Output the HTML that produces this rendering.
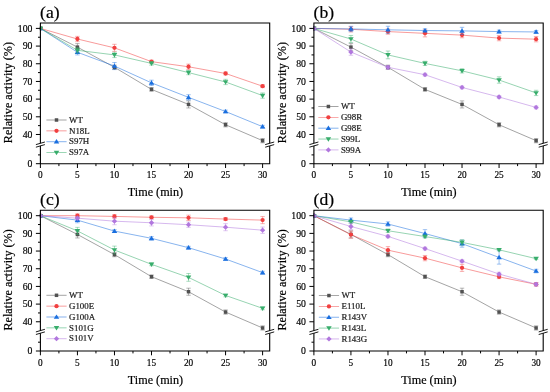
<!DOCTYPE html>
<html><head><meta charset="utf-8"><title>Relative activity</title>
<style>
html,body{margin:0;padding:0;background:#fff;}
svg{display:block;font-family:"Liberation Serif",serif;}
</style></head><body>
<svg width="550" height="392" viewBox="0 0 550 392">
<rect width="550" height="392" fill="#fff"/>
<defs><clipPath id="c0"><rect x="39.90" y="22.50" width="230.30" height="141.70"/></clipPath><clipPath id="c1"><rect x="313.40" y="22.50" width="230.30" height="141.70"/></clipPath><clipPath id="c2"><rect x="39.90" y="209.80" width="230.30" height="141.70"/></clipPath><clipPath id="c3"><rect x="313.40" y="209.80" width="230.30" height="141.70"/></clipPath></defs>
<g><g clip-path="url(#c0)"><polyline points="40.40,28.40 77.43,47.14 114.47,67.30 151.50,89.40 188.53,104.42 225.57,124.76 262.60,140.67" fill="none" stroke="#515151" stroke-width="0.7" opacity="0.75"/>
<path d="M40.40 27.52V29.28M38.20 27.52h4.4M38.20 29.28h4.4M77.43 43.60V50.68M75.23 43.60h4.4M75.23 50.68h4.4M114.47 65.17V69.42M112.27 65.17h4.4M112.27 69.42h4.4M151.50 87.63V91.16M149.30 87.63h4.4M149.30 91.16h4.4M188.53 100.89V107.96M186.33 100.89h4.4M186.33 107.96h4.4M225.57 122.63V126.88M223.37 122.63h4.4M223.37 126.88h4.4M262.60 138.55V142.79M260.40 138.55h4.4M260.40 142.79h4.4" stroke="#515151" stroke-width="0.6" fill="none" opacity="0.7"/>
<rect x="38.65" y="26.65" width="3.50" height="3.50" fill="#515151"/>
<rect x="75.68" y="45.39" width="3.50" height="3.50" fill="#515151"/>
<rect x="112.72" y="65.55" width="3.50" height="3.50" fill="#515151"/>
<rect x="149.75" y="87.65" width="3.50" height="3.50" fill="#515151"/>
<rect x="186.78" y="102.67" width="3.50" height="3.50" fill="#515151"/>
<rect x="223.82" y="123.01" width="3.50" height="3.50" fill="#515151"/>
<rect x="260.85" y="138.92" width="3.50" height="3.50" fill="#515151"/>
<polyline points="40.40,28.40 77.43,39.01 114.47,47.85 151.50,61.64 188.53,66.77 225.57,73.48 262.60,86.21" fill="none" stroke="#F14040" stroke-width="0.7" opacity="0.75"/>
<path d="M40.40 27.52V29.28M38.20 27.52h4.4M38.20 29.28h4.4M77.43 36.36V41.66M75.23 36.36h4.4M75.23 41.66h4.4M114.47 44.31V51.38M112.27 44.31h4.4M112.27 51.38h4.4M151.50 60.22V63.05M149.30 60.22h4.4M149.30 63.05h4.4M188.53 64.11V69.42M186.33 64.11h4.4M186.33 69.42h4.4M225.57 72.07V74.90M223.37 72.07h4.4M223.37 74.90h4.4M262.60 84.80V87.63M260.40 84.80h4.4M260.40 87.63h4.4" stroke="#F14040" stroke-width="0.6" fill="none" opacity="0.7"/>
<circle cx="40.40" cy="28.40" r="2.15" fill="#F14040"/>
<circle cx="77.43" cy="39.01" r="2.15" fill="#F14040"/>
<circle cx="114.47" cy="47.85" r="2.15" fill="#F14040"/>
<circle cx="151.50" cy="61.64" r="2.15" fill="#F14040"/>
<circle cx="188.53" cy="66.77" r="2.15" fill="#F14040"/>
<circle cx="225.57" cy="73.48" r="2.15" fill="#F14040"/>
<circle cx="262.60" cy="86.21" r="2.15" fill="#F14040"/>
<polyline points="40.40,28.40 77.43,52.27 114.47,66.06 151.50,82.85 188.53,97.35 225.57,111.50 262.60,126.70" fill="none" stroke="#1A6FDF" stroke-width="0.7" opacity="0.75"/>
<path d="M40.40 27.52V29.28M38.20 27.52h4.4M38.20 29.28h4.4M77.43 49.62V54.92M75.23 49.62h4.4M75.23 54.92h4.4M114.47 62.52V69.59M112.27 62.52h4.4M112.27 69.59h4.4M151.50 80.20V85.51M149.30 80.20h4.4M149.30 85.51h4.4M188.53 94.70V100.00M186.33 94.70h4.4M186.33 100.00h4.4M225.57 110.08V112.91M223.37 110.08h4.4M223.37 112.91h4.4M262.60 125.29V128.12M260.40 125.29h4.4M260.40 128.12h4.4" stroke="#1A6FDF" stroke-width="0.6" fill="none" opacity="0.7"/>
<path d="M40.40 25.80L43.15 30.20L37.65 30.20Z" fill="#1A6FDF"/>
<path d="M77.43 49.67L80.18 54.07L74.68 54.07Z" fill="#1A6FDF"/>
<path d="M114.47 63.46L117.22 67.86L111.72 67.86Z" fill="#1A6FDF"/>
<path d="M151.50 80.25L154.25 84.65L148.75 84.65Z" fill="#1A6FDF"/>
<path d="M188.53 94.75L191.28 99.15L185.78 99.15Z" fill="#1A6FDF"/>
<path d="M225.57 108.90L228.32 113.30L222.82 113.30Z" fill="#1A6FDF"/>
<path d="M262.60 124.10L265.35 128.50L259.85 128.50Z" fill="#1A6FDF"/>
<polyline points="40.40,28.40 77.43,50.32 114.47,54.92 151.50,63.41 188.53,72.60 225.57,81.97 262.60,95.58" fill="none" stroke="#37AD6B" stroke-width="0.7" opacity="0.75"/>
<path d="M40.40 27.52V29.28M38.20 27.52h4.4M38.20 29.28h4.4M77.43 47.67V52.98M75.23 47.67h4.4M75.23 52.98h4.4M114.47 52.27V57.57M112.27 52.27h4.4M112.27 57.57h4.4M151.50 61.64V65.17M149.30 61.64h4.4M149.30 65.17h4.4M188.53 70.48V74.72M186.33 70.48h4.4M186.33 74.72h4.4M225.57 79.32V84.62M223.37 79.32h4.4M223.37 84.62h4.4M262.60 92.93V98.24M260.40 92.93h4.4M260.40 98.24h4.4" stroke="#37AD6B" stroke-width="0.6" fill="none" opacity="0.7"/>
<path d="M40.40 31.00L43.15 26.60L37.65 26.60Z" fill="#37AD6B"/>
<path d="M77.43 52.92L80.18 48.52L74.68 48.52Z" fill="#37AD6B"/>
<path d="M114.47 57.52L117.22 53.12L111.72 53.12Z" fill="#37AD6B"/>
<path d="M151.50 66.01L154.25 61.61L148.75 61.61Z" fill="#37AD6B"/>
<path d="M188.53 75.20L191.28 70.80L185.78 70.80Z" fill="#37AD6B"/>
<path d="M225.57 84.57L228.32 80.17L222.82 80.17Z" fill="#37AD6B"/>
<path d="M262.60 98.18L265.35 93.78L259.85 93.78Z" fill="#37AD6B"/></g>
<path d="M40.40 163.70V23.00H269.70V163.70H40.40Z" fill="none" stroke="#000" stroke-width="1.1"/>
<path d="M40.40 134.48h-4.5M40.40 116.80h-4.5M40.40 99.12h-4.5M40.40 81.44h-4.5M40.40 63.76h-4.5M40.40 46.08h-4.5M40.40 28.40h-4.5M40.40 125.64h-2.4M40.40 107.96h-2.4M40.40 90.28h-2.4M40.40 72.60h-2.4M40.40 54.92h-2.4M40.40 37.24h-2.4M40.40 163.70h-4.5M40.40 154.90h-2.4M40.40 163.70v4.3M77.43 163.70v4.3M114.47 163.70v4.3M151.50 163.70v4.3M188.53 163.70v4.3M225.57 163.70v4.3M262.60 163.70v4.3M58.92 163.70v2.4M95.95 163.70v2.4M132.98 163.70v2.4M170.02 163.70v2.4M207.05 163.70v2.4M244.08 163.70v2.4" stroke="#000" stroke-width="1" fill="none"/>
<path d="M35.90 144.60l9 -2.6v2.6l-9 2.6z" fill="#fff"/>
<path d="M35.90 144.60l9 -2.6M35.90 147.20l9 -2.6" stroke="#000" stroke-width="0.9" fill="none"/>
<path d="M265.20 144.60l9 -2.6v2.6l-9 2.6z" fill="#fff"/>
<path d="M265.20 144.60l9 -2.6M265.20 147.20l9 -2.6" stroke="#000" stroke-width="0.9" fill="none"/>
<text transform="translate(32.40 137.73) scale(0.93 1)" font-size="10.5" text-anchor="end" fill="#000" stroke="#000" stroke-width="0.18">40</text>
<text transform="translate(32.40 120.05) scale(0.93 1)" font-size="10.5" text-anchor="end" fill="#000" stroke="#000" stroke-width="0.18">50</text>
<text transform="translate(32.40 102.37) scale(0.93 1)" font-size="10.5" text-anchor="end" fill="#000" stroke="#000" stroke-width="0.18">60</text>
<text transform="translate(32.40 84.69) scale(0.93 1)" font-size="10.5" text-anchor="end" fill="#000" stroke="#000" stroke-width="0.18">70</text>
<text transform="translate(32.40 67.01) scale(0.93 1)" font-size="10.5" text-anchor="end" fill="#000" stroke="#000" stroke-width="0.18">80</text>
<text transform="translate(32.40 49.33) scale(0.93 1)" font-size="10.5" text-anchor="end" fill="#000" stroke="#000" stroke-width="0.18">90</text>
<text transform="translate(32.40 31.65) scale(0.93 1)" font-size="10.5" text-anchor="end" fill="#000" stroke="#000" stroke-width="0.18">100</text>
<text transform="translate(32.40 166.60) scale(0.93 1)" font-size="10.5" text-anchor="end" fill="#000" stroke="#000" stroke-width="0.18">0</text>
<text transform="translate(40.40 178.30) scale(0.93 1)" font-size="10" text-anchor="middle" fill="#000" stroke="#000" stroke-width="0.18">0</text>
<text transform="translate(77.43 178.30) scale(0.93 1)" font-size="10" text-anchor="middle" fill="#000" stroke="#000" stroke-width="0.18">5</text>
<text transform="translate(114.47 178.30) scale(0.93 1)" font-size="10" text-anchor="middle" fill="#000" stroke="#000" stroke-width="0.18">10</text>
<text transform="translate(151.50 178.30) scale(0.93 1)" font-size="10" text-anchor="middle" fill="#000" stroke="#000" stroke-width="0.18">15</text>
<text transform="translate(188.53 178.30) scale(0.93 1)" font-size="10" text-anchor="middle" fill="#000" stroke="#000" stroke-width="0.18">20</text>
<text transform="translate(225.57 178.30) scale(0.93 1)" font-size="10" text-anchor="middle" fill="#000" stroke="#000" stroke-width="0.18">25</text>
<text transform="translate(262.60 178.30) scale(0.93 1)" font-size="10" text-anchor="middle" fill="#000" stroke="#000" stroke-width="0.18">30</text>
<text transform="translate(155.50 196.30) scale(1.04 1)" font-size="11.7" text-anchor="middle" fill="#000" stroke="#000" stroke-width="0.18">Time (min)</text>
<text transform="translate(12.20 92.60) rotate(-90) scale(1.04 1)" font-size="11.7" text-anchor="middle" fill="#000" stroke="#000" stroke-width="0.18">Relative activity (%)</text>
<text transform="translate(40.10 17.70) scale(1.1 1)" font-size="16" text-anchor="start" fill="#000" stroke="#000" stroke-width="0.18">(a)</text>
<path d="M46.40 120.00h20.2" stroke="#515151" stroke-width="0.7" opacity="0.75"/>
<rect x="54.75" y="118.25" width="3.50" height="3.50" fill="#515151"/>
<text transform="translate(69.00 122.70) scale(1.14 1)" font-size="7.8" text-anchor="start" fill="#1a1a1a" stroke="#1a1a1a" stroke-width="0.18">WT</text>
<path d="M46.40 130.85h20.2" stroke="#F14040" stroke-width="0.7" opacity="0.75"/>
<circle cx="56.50" cy="130.85" r="2.15" fill="#F14040"/>
<text transform="translate(69.00 133.55) scale(1.14 1)" font-size="7.8" text-anchor="start" fill="#1a1a1a" stroke="#1a1a1a" stroke-width="0.18">N18L</text>
<path d="M46.40 141.70h20.2" stroke="#1A6FDF" stroke-width="0.7" opacity="0.75"/>
<path d="M56.50 139.10L59.25 143.50L53.75 143.50Z" fill="#1A6FDF"/>
<text transform="translate(69.00 144.40) scale(1.14 1)" font-size="7.8" text-anchor="start" fill="#1a1a1a" stroke="#1a1a1a" stroke-width="0.18">S97H</text>
<path d="M46.40 152.55h20.2" stroke="#37AD6B" stroke-width="0.7" opacity="0.75"/>
<path d="M56.50 155.15L59.25 150.75L53.75 150.75Z" fill="#37AD6B"/>
<text transform="translate(69.00 155.25) scale(1.14 1)" font-size="7.8" text-anchor="start" fill="#1a1a1a" stroke="#1a1a1a" stroke-width="0.18">S97A</text></g>
<g><g clip-path="url(#c1)"><polyline points="313.90,28.40 350.93,47.14 387.97,67.30 425.00,89.40 462.03,104.42 499.07,124.76 536.10,140.67" fill="none" stroke="#515151" stroke-width="0.7" opacity="0.75"/>
<path d="M313.90 27.52V29.28M311.70 27.52h4.4M311.70 29.28h4.4M350.93 43.60V50.68M348.73 43.60h4.4M348.73 50.68h4.4M387.97 65.17V69.42M385.77 65.17h4.4M385.77 69.42h4.4M425.00 87.63V91.16M422.80 87.63h4.4M422.80 91.16h4.4M462.03 100.89V107.96M459.83 100.89h4.4M459.83 107.96h4.4M499.07 122.63V126.88M496.87 122.63h4.4M496.87 126.88h4.4M536.10 138.55V142.79M533.90 138.55h4.4M533.90 142.79h4.4" stroke="#515151" stroke-width="0.6" fill="none" opacity="0.7"/>
<rect x="312.15" y="26.65" width="3.50" height="3.50" fill="#515151"/>
<rect x="349.18" y="45.39" width="3.50" height="3.50" fill="#515151"/>
<rect x="386.22" y="65.55" width="3.50" height="3.50" fill="#515151"/>
<rect x="423.25" y="87.65" width="3.50" height="3.50" fill="#515151"/>
<rect x="460.28" y="102.67" width="3.50" height="3.50" fill="#515151"/>
<rect x="497.32" y="123.01" width="3.50" height="3.50" fill="#515151"/>
<rect x="534.35" y="138.92" width="3.50" height="3.50" fill="#515151"/>
<polyline points="313.90,28.40 350.93,29.28 387.97,31.58 425.00,33.35 462.03,35.12 499.07,38.12 536.10,39.18" fill="none" stroke="#F14040" stroke-width="0.7" opacity="0.75"/>
<path d="M313.90 27.52V29.28M311.70 27.52h4.4M311.70 29.28h4.4M350.93 26.63V31.94M348.73 26.63h4.4M348.73 31.94h4.4M387.97 28.93V34.23M385.77 28.93h4.4M385.77 34.23h4.4M425.00 29.81V36.89M422.80 29.81h4.4M422.80 36.89h4.4M462.03 32.47V37.77M459.83 32.47h4.4M459.83 37.77h4.4M499.07 35.47V40.78M496.87 35.47h4.4M496.87 40.78h4.4M536.10 36.53V41.84M533.90 36.53h4.4M533.90 41.84h4.4" stroke="#F14040" stroke-width="0.6" fill="none" opacity="0.7"/>
<circle cx="313.90" cy="28.40" r="2.15" fill="#F14040"/>
<circle cx="350.93" cy="29.28" r="2.15" fill="#F14040"/>
<circle cx="387.97" cy="31.58" r="2.15" fill="#F14040"/>
<circle cx="425.00" cy="33.35" r="2.15" fill="#F14040"/>
<circle cx="462.03" cy="35.12" r="2.15" fill="#F14040"/>
<circle cx="499.07" cy="38.12" r="2.15" fill="#F14040"/>
<circle cx="536.10" cy="39.18" r="2.15" fill="#F14040"/>
<polyline points="313.90,28.40 350.93,28.93 387.97,29.81 425.00,30.52 462.03,30.88 499.07,31.58 536.10,31.94" fill="none" stroke="#1A6FDF" stroke-width="0.7" opacity="0.75"/>
<path d="M313.90 27.52V29.28M311.70 27.52h4.4M311.70 29.28h4.4M350.93 26.28V31.58M348.73 26.28h4.4M348.73 31.58h4.4M387.97 26.28V33.35M385.77 26.28h4.4M385.77 33.35h4.4M425.00 28.75V32.29M422.80 28.75h4.4M422.80 32.29h4.4M462.03 27.34V34.41M459.83 27.34h4.4M459.83 34.41h4.4M499.07 30.17V33.00M496.87 30.17h4.4M496.87 33.00h4.4M536.10 30.52V33.35M533.90 30.52h4.4M533.90 33.35h4.4" stroke="#1A6FDF" stroke-width="0.6" fill="none" opacity="0.7"/>
<path d="M313.90 25.80L316.65 30.20L311.15 30.20Z" fill="#1A6FDF"/>
<path d="M350.93 26.33L353.68 30.73L348.18 30.73Z" fill="#1A6FDF"/>
<path d="M387.97 27.21L390.72 31.61L385.22 31.61Z" fill="#1A6FDF"/>
<path d="M425.00 27.92L427.75 32.32L422.25 32.32Z" fill="#1A6FDF"/>
<path d="M462.03 28.28L464.78 32.68L459.28 32.68Z" fill="#1A6FDF"/>
<path d="M499.07 28.98L501.82 33.38L496.32 33.38Z" fill="#1A6FDF"/>
<path d="M536.10 29.34L538.85 33.74L533.35 33.74Z" fill="#1A6FDF"/>
<polyline points="313.90,28.40 350.93,39.01 387.97,54.92 425.00,63.41 462.03,70.83 499.07,80.03 536.10,92.93" fill="none" stroke="#37AD6B" stroke-width="0.7" opacity="0.75"/>
<path d="M313.90 27.52V29.28M311.70 27.52h4.4M311.70 29.28h4.4M350.93 35.47V42.54M348.73 35.47h4.4M348.73 42.54h4.4M387.97 51.03V58.81M385.77 51.03h4.4M385.77 58.81h4.4M425.00 61.28V65.53M422.80 61.28h4.4M422.80 65.53h4.4M462.03 68.71V72.95M459.83 68.71h4.4M459.83 72.95h4.4M499.07 76.84V83.21M496.87 76.84h4.4M496.87 83.21h4.4M536.10 90.28V95.58M533.90 90.28h4.4M533.90 95.58h4.4" stroke="#37AD6B" stroke-width="0.6" fill="none" opacity="0.7"/>
<path d="M313.90 31.00L316.65 26.60L311.15 26.60Z" fill="#37AD6B"/>
<path d="M350.93 41.61L353.68 37.21L348.18 37.21Z" fill="#37AD6B"/>
<path d="M387.97 57.52L390.72 53.12L385.22 53.12Z" fill="#37AD6B"/>
<path d="M425.00 66.01L427.75 61.61L422.25 61.61Z" fill="#37AD6B"/>
<path d="M462.03 73.43L464.78 69.03L459.28 69.03Z" fill="#37AD6B"/>
<path d="M499.07 82.63L501.82 78.23L496.32 78.23Z" fill="#37AD6B"/>
<path d="M536.10 95.53L538.85 91.13L533.35 91.13Z" fill="#37AD6B"/>
<polyline points="313.90,28.40 350.93,52.09 387.97,67.30 425.00,74.72 462.03,87.45 499.07,97.00 536.10,107.43" fill="none" stroke="#B177DE" stroke-width="0.7" opacity="0.75"/>
<path d="M313.90 27.52V29.28M311.70 27.52h4.4M311.70 29.28h4.4M350.93 48.91V55.27M348.73 48.91h4.4M348.73 55.27h4.4M387.97 65.53V69.06M385.77 65.53h4.4M385.77 69.06h4.4M425.00 73.31V76.14M422.80 73.31h4.4M422.80 76.14h4.4M462.03 86.04V88.87M459.83 86.04h4.4M459.83 88.87h4.4M499.07 95.58V98.41M496.87 95.58h4.4M496.87 98.41h4.4M536.10 106.02V108.84M533.90 106.02h4.4M533.90 108.84h4.4" stroke="#B177DE" stroke-width="0.6" fill="none" opacity="0.7"/>
<path d="M313.90 25.75L316.55 28.40L313.90 31.05L311.25 28.40Z" fill="#B177DE"/>
<path d="M350.93 49.44L353.58 52.09L350.93 54.74L348.28 52.09Z" fill="#B177DE"/>
<path d="M387.97 64.65L390.62 67.30L387.97 69.95L385.32 67.30Z" fill="#B177DE"/>
<path d="M425.00 72.07L427.65 74.72L425.00 77.37L422.35 74.72Z" fill="#B177DE"/>
<path d="M462.03 84.80L464.68 87.45L462.03 90.10L459.38 87.45Z" fill="#B177DE"/>
<path d="M499.07 94.35L501.72 97.00L499.07 99.65L496.42 97.00Z" fill="#B177DE"/>
<path d="M536.10 104.78L538.75 107.43L536.10 110.08L533.45 107.43Z" fill="#B177DE"/></g>
<path d="M313.90 163.70V23.00H543.20V163.70H313.90Z" fill="none" stroke="#000" stroke-width="1.1"/>
<path d="M313.90 134.48h-4.5M313.90 116.80h-4.5M313.90 99.12h-4.5M313.90 81.44h-4.5M313.90 63.76h-4.5M313.90 46.08h-4.5M313.90 28.40h-4.5M313.90 125.64h-2.4M313.90 107.96h-2.4M313.90 90.28h-2.4M313.90 72.60h-2.4M313.90 54.92h-2.4M313.90 37.24h-2.4M313.90 163.70h-4.5M313.90 154.90h-2.4M313.90 163.70v4.3M350.93 163.70v4.3M387.97 163.70v4.3M425.00 163.70v4.3M462.03 163.70v4.3M499.07 163.70v4.3M536.10 163.70v4.3M332.42 163.70v2.4M369.45 163.70v2.4M406.48 163.70v2.4M443.52 163.70v2.4M480.55 163.70v2.4M517.58 163.70v2.4" stroke="#000" stroke-width="1" fill="none"/>
<path d="M309.40 144.60l9 -2.6v2.6l-9 2.6z" fill="#fff"/>
<path d="M309.40 144.60l9 -2.6M309.40 147.20l9 -2.6" stroke="#000" stroke-width="0.9" fill="none"/>
<path d="M538.70 144.60l9 -2.6v2.6l-9 2.6z" fill="#fff"/>
<path d="M538.70 144.60l9 -2.6M538.70 147.20l9 -2.6" stroke="#000" stroke-width="0.9" fill="none"/>
<text transform="translate(305.90 137.73) scale(0.93 1)" font-size="10.5" text-anchor="end" fill="#000" stroke="#000" stroke-width="0.18">40</text>
<text transform="translate(305.90 120.05) scale(0.93 1)" font-size="10.5" text-anchor="end" fill="#000" stroke="#000" stroke-width="0.18">50</text>
<text transform="translate(305.90 102.37) scale(0.93 1)" font-size="10.5" text-anchor="end" fill="#000" stroke="#000" stroke-width="0.18">60</text>
<text transform="translate(305.90 84.69) scale(0.93 1)" font-size="10.5" text-anchor="end" fill="#000" stroke="#000" stroke-width="0.18">70</text>
<text transform="translate(305.90 67.01) scale(0.93 1)" font-size="10.5" text-anchor="end" fill="#000" stroke="#000" stroke-width="0.18">80</text>
<text transform="translate(305.90 49.33) scale(0.93 1)" font-size="10.5" text-anchor="end" fill="#000" stroke="#000" stroke-width="0.18">90</text>
<text transform="translate(305.90 31.65) scale(0.93 1)" font-size="10.5" text-anchor="end" fill="#000" stroke="#000" stroke-width="0.18">100</text>
<text transform="translate(305.90 166.60) scale(0.93 1)" font-size="10.5" text-anchor="end" fill="#000" stroke="#000" stroke-width="0.18">0</text>
<text transform="translate(313.90 178.30) scale(0.93 1)" font-size="10" text-anchor="middle" fill="#000" stroke="#000" stroke-width="0.18">0</text>
<text transform="translate(350.93 178.30) scale(0.93 1)" font-size="10" text-anchor="middle" fill="#000" stroke="#000" stroke-width="0.18">5</text>
<text transform="translate(387.97 178.30) scale(0.93 1)" font-size="10" text-anchor="middle" fill="#000" stroke="#000" stroke-width="0.18">10</text>
<text transform="translate(425.00 178.30) scale(0.93 1)" font-size="10" text-anchor="middle" fill="#000" stroke="#000" stroke-width="0.18">15</text>
<text transform="translate(462.03 178.30) scale(0.93 1)" font-size="10" text-anchor="middle" fill="#000" stroke="#000" stroke-width="0.18">20</text>
<text transform="translate(499.07 178.30) scale(0.93 1)" font-size="10" text-anchor="middle" fill="#000" stroke="#000" stroke-width="0.18">25</text>
<text transform="translate(536.10 178.30) scale(0.93 1)" font-size="10" text-anchor="middle" fill="#000" stroke="#000" stroke-width="0.18">30</text>
<text transform="translate(429.00 196.30) scale(1.04 1)" font-size="11.7" text-anchor="middle" fill="#000" stroke="#000" stroke-width="0.18">Time (min)</text>
<text transform="translate(285.70 92.60) rotate(-90) scale(1.04 1)" font-size="11.7" text-anchor="middle" fill="#000" stroke="#000" stroke-width="0.18">Relative activity (%)</text>
<text transform="translate(313.60 17.70) scale(1.1 1)" font-size="16" text-anchor="start" fill="#000" stroke="#000" stroke-width="0.18">(b)</text>
<path d="M318.30 106.50h20.2" stroke="#515151" stroke-width="0.7" opacity="0.75"/>
<rect x="326.65" y="104.75" width="3.50" height="3.50" fill="#515151"/>
<text transform="translate(340.90 109.20) scale(1.14 1)" font-size="7.8" text-anchor="start" fill="#1a1a1a" stroke="#1a1a1a" stroke-width="0.18">WT</text>
<path d="M318.30 117.35h20.2" stroke="#F14040" stroke-width="0.7" opacity="0.75"/>
<circle cx="328.40" cy="117.35" r="2.15" fill="#F14040"/>
<text transform="translate(340.90 120.05) scale(1.14 1)" font-size="7.8" text-anchor="start" fill="#1a1a1a" stroke="#1a1a1a" stroke-width="0.18">G98R</text>
<path d="M318.30 128.20h20.2" stroke="#1A6FDF" stroke-width="0.7" opacity="0.75"/>
<path d="M328.40 125.60L331.15 130.00L325.65 130.00Z" fill="#1A6FDF"/>
<text transform="translate(340.90 130.90) scale(1.14 1)" font-size="7.8" text-anchor="start" fill="#1a1a1a" stroke="#1a1a1a" stroke-width="0.18">G98E</text>
<path d="M318.30 139.05h20.2" stroke="#37AD6B" stroke-width="0.7" opacity="0.75"/>
<path d="M328.40 141.65L331.15 137.25L325.65 137.25Z" fill="#37AD6B"/>
<text transform="translate(340.90 141.75) scale(1.14 1)" font-size="7.8" text-anchor="start" fill="#1a1a1a" stroke="#1a1a1a" stroke-width="0.18">S99L</text>
<path d="M318.30 149.90h20.2" stroke="#B177DE" stroke-width="0.7" opacity="0.75"/>
<path d="M328.40 147.25L331.05 149.90L328.40 152.55L325.75 149.90Z" fill="#B177DE"/>
<text transform="translate(340.90 152.60) scale(1.14 1)" font-size="7.8" text-anchor="start" fill="#1a1a1a" stroke="#1a1a1a" stroke-width="0.18">S99A</text></g>
<g><g clip-path="url(#c2)"><polyline points="40.40,215.70 77.43,234.44 114.47,254.60 151.50,276.70 188.53,291.72 225.57,312.06 262.60,327.97" fill="none" stroke="#515151" stroke-width="0.7" opacity="0.75"/>
<path d="M40.40 214.82V216.58M38.20 214.82h4.4M38.20 216.58h4.4M77.43 230.90V237.98M75.23 230.90h4.4M75.23 237.98h4.4M114.47 252.47V256.72M112.27 252.47h4.4M112.27 256.72h4.4M151.50 274.93V278.46M149.30 274.93h4.4M149.30 278.46h4.4M188.53 288.19V295.26M186.33 288.19h4.4M186.33 295.26h4.4M225.57 309.93V314.18M223.37 309.93h4.4M223.37 314.18h4.4M262.60 325.85V330.09M260.40 325.85h4.4M260.40 330.09h4.4" stroke="#515151" stroke-width="0.6" fill="none" opacity="0.7"/>
<rect x="38.65" y="213.95" width="3.50" height="3.50" fill="#515151"/>
<rect x="75.68" y="232.69" width="3.50" height="3.50" fill="#515151"/>
<rect x="112.72" y="252.85" width="3.50" height="3.50" fill="#515151"/>
<rect x="149.75" y="274.95" width="3.50" height="3.50" fill="#515151"/>
<rect x="186.78" y="289.97" width="3.50" height="3.50" fill="#515151"/>
<rect x="223.82" y="310.31" width="3.50" height="3.50" fill="#515151"/>
<rect x="260.85" y="326.22" width="3.50" height="3.50" fill="#515151"/>
<polyline points="40.40,215.70 77.43,215.70 114.47,216.41 151.50,217.29 188.53,217.82 225.57,219.06 262.60,220.12" fill="none" stroke="#F14040" stroke-width="0.7" opacity="0.75"/>
<path d="M40.40 214.82V216.58M38.20 214.82h4.4M38.20 216.58h4.4M77.43 213.93V217.47M75.23 213.93h4.4M75.23 217.47h4.4M114.47 214.64V218.18M112.27 214.64h4.4M112.27 218.18h4.4M151.50 215.88V218.71M149.30 215.88h4.4M149.30 218.71h4.4M188.53 215.17V220.47M186.33 215.17h4.4M186.33 220.47h4.4M225.57 217.64V220.47M223.37 217.64h4.4M223.37 220.47h4.4M262.60 216.58V223.66M260.40 216.58h4.4M260.40 223.66h4.4" stroke="#F14040" stroke-width="0.6" fill="none" opacity="0.7"/>
<circle cx="40.40" cy="215.70" r="2.15" fill="#F14040"/>
<circle cx="77.43" cy="215.70" r="2.15" fill="#F14040"/>
<circle cx="114.47" cy="216.41" r="2.15" fill="#F14040"/>
<circle cx="151.50" cy="217.29" r="2.15" fill="#F14040"/>
<circle cx="188.53" cy="217.82" r="2.15" fill="#F14040"/>
<circle cx="225.57" cy="219.06" r="2.15" fill="#F14040"/>
<circle cx="262.60" cy="220.12" r="2.15" fill="#F14040"/>
<polyline points="40.40,215.70 77.43,220.12 114.47,231.08 151.50,238.33 188.53,247.70 225.57,259.02 262.60,272.63" fill="none" stroke="#1A6FDF" stroke-width="0.7" opacity="0.75"/>
<path d="M40.40 214.82V216.58M38.20 214.82h4.4M38.20 216.58h4.4M77.43 217.47V222.77M75.23 217.47h4.4M75.23 222.77h4.4M114.47 229.67V232.50M112.27 229.67h4.4M112.27 232.50h4.4M151.50 236.56V240.10M149.30 236.56h4.4M149.30 240.10h4.4M188.53 246.29V249.12M186.33 246.29h4.4M186.33 249.12h4.4M225.57 257.60V260.43M223.37 257.60h4.4M223.37 260.43h4.4M262.60 271.22V274.04M260.40 271.22h4.4M260.40 274.04h4.4" stroke="#1A6FDF" stroke-width="0.6" fill="none" opacity="0.7"/>
<path d="M40.40 213.10L43.15 217.50L37.65 217.50Z" fill="#1A6FDF"/>
<path d="M77.43 217.52L80.18 221.92L74.68 221.92Z" fill="#1A6FDF"/>
<path d="M114.47 228.48L117.22 232.88L111.72 232.88Z" fill="#1A6FDF"/>
<path d="M151.50 235.73L154.25 240.13L148.75 240.13Z" fill="#1A6FDF"/>
<path d="M188.53 245.10L191.28 249.50L185.78 249.50Z" fill="#1A6FDF"/>
<path d="M225.57 256.42L228.32 260.82L222.82 260.82Z" fill="#1A6FDF"/>
<path d="M262.60 270.03L265.35 274.43L259.85 274.43Z" fill="#1A6FDF"/>
<polyline points="40.40,215.70 77.43,230.90 114.47,250.00 151.50,264.32 188.53,277.40 225.57,295.44 262.60,308.34" fill="none" stroke="#37AD6B" stroke-width="0.7" opacity="0.75"/>
<path d="M40.40 214.82V216.58M38.20 214.82h4.4M38.20 216.58h4.4M77.43 227.37V234.44M75.23 227.37h4.4M75.23 234.44h4.4M114.47 246.11V253.89M112.27 246.11h4.4M112.27 253.89h4.4M151.50 262.91V265.73M149.30 262.91h4.4M149.30 265.73h4.4M188.53 273.51V281.29M186.33 273.51h4.4M186.33 281.29h4.4M225.57 294.02V296.85M223.37 294.02h4.4M223.37 296.85h4.4M262.60 306.93V309.76M260.40 306.93h4.4M260.40 309.76h4.4" stroke="#37AD6B" stroke-width="0.6" fill="none" opacity="0.7"/>
<path d="M40.40 218.30L43.15 213.90L37.65 213.90Z" fill="#37AD6B"/>
<path d="M77.43 233.50L80.18 229.10L74.68 229.10Z" fill="#37AD6B"/>
<path d="M114.47 252.60L117.22 248.20L111.72 248.20Z" fill="#37AD6B"/>
<path d="M151.50 266.92L154.25 262.52L148.75 262.52Z" fill="#37AD6B"/>
<path d="M188.53 280.00L191.28 275.60L185.78 275.60Z" fill="#37AD6B"/>
<path d="M225.57 298.04L228.32 293.64L222.82 293.64Z" fill="#37AD6B"/>
<path d="M262.60 310.94L265.35 306.54L259.85 306.54Z" fill="#37AD6B"/>
<polyline points="40.40,215.70 77.43,218.18 114.47,221.18 151.50,222.77 188.53,224.72 225.57,227.19 262.60,230.20" fill="none" stroke="#B177DE" stroke-width="0.7" opacity="0.75"/>
<path d="M40.40 214.82V216.58M38.20 214.82h4.4M38.20 216.58h4.4M77.43 216.41V219.94M75.23 216.41h4.4M75.23 219.94h4.4M114.47 217.64V224.72M112.27 217.64h4.4M112.27 224.72h4.4M151.50 219.59V225.95M149.30 219.59h4.4M149.30 225.95h4.4M188.53 222.06V227.37M186.33 222.06h4.4M186.33 227.37h4.4M225.57 223.66V230.73M223.37 223.66h4.4M223.37 230.73h4.4M262.60 227.02V233.38M260.40 227.02h4.4M260.40 233.38h4.4" stroke="#B177DE" stroke-width="0.6" fill="none" opacity="0.7"/>
<path d="M40.40 213.05L43.05 215.70L40.40 218.35L37.75 215.70Z" fill="#B177DE"/>
<path d="M77.43 215.53L80.08 218.18L77.43 220.83L74.78 218.18Z" fill="#B177DE"/>
<path d="M114.47 218.53L117.12 221.18L114.47 223.83L111.82 221.18Z" fill="#B177DE"/>
<path d="M151.50 220.12L154.15 222.77L151.50 225.42L148.85 222.77Z" fill="#B177DE"/>
<path d="M188.53 222.07L191.18 224.72L188.53 227.37L185.88 224.72Z" fill="#B177DE"/>
<path d="M225.57 224.54L228.22 227.19L225.57 229.84L222.92 227.19Z" fill="#B177DE"/>
<path d="M262.60 227.55L265.25 230.20L262.60 232.85L259.95 230.20Z" fill="#B177DE"/></g>
<path d="M40.40 351.00V210.30H269.70V351.00H40.40Z" fill="none" stroke="#000" stroke-width="1.1"/>
<path d="M40.40 321.78h-4.5M40.40 304.10h-4.5M40.40 286.42h-4.5M40.40 268.74h-4.5M40.40 251.06h-4.5M40.40 233.38h-4.5M40.40 215.70h-4.5M40.40 312.94h-2.4M40.40 295.26h-2.4M40.40 277.58h-2.4M40.40 259.90h-2.4M40.40 242.22h-2.4M40.40 224.54h-2.4M40.40 351.00h-4.5M40.40 342.20h-2.4M40.40 351.00v4.3M77.43 351.00v4.3M114.47 351.00v4.3M151.50 351.00v4.3M188.53 351.00v4.3M225.57 351.00v4.3M262.60 351.00v4.3M58.92 351.00v2.4M95.95 351.00v2.4M132.98 351.00v2.4M170.02 351.00v2.4M207.05 351.00v2.4M244.08 351.00v2.4" stroke="#000" stroke-width="1" fill="none"/>
<path d="M35.90 331.90l9 -2.6v2.6l-9 2.6z" fill="#fff"/>
<path d="M35.90 331.90l9 -2.6M35.90 334.50l9 -2.6" stroke="#000" stroke-width="0.9" fill="none"/>
<path d="M265.20 331.90l9 -2.6v2.6l-9 2.6z" fill="#fff"/>
<path d="M265.20 331.90l9 -2.6M265.20 334.50l9 -2.6" stroke="#000" stroke-width="0.9" fill="none"/>
<text transform="translate(32.40 325.03) scale(0.93 1)" font-size="10.5" text-anchor="end" fill="#000" stroke="#000" stroke-width="0.18">40</text>
<text transform="translate(32.40 307.35) scale(0.93 1)" font-size="10.5" text-anchor="end" fill="#000" stroke="#000" stroke-width="0.18">50</text>
<text transform="translate(32.40 289.67) scale(0.93 1)" font-size="10.5" text-anchor="end" fill="#000" stroke="#000" stroke-width="0.18">60</text>
<text transform="translate(32.40 271.99) scale(0.93 1)" font-size="10.5" text-anchor="end" fill="#000" stroke="#000" stroke-width="0.18">70</text>
<text transform="translate(32.40 254.31) scale(0.93 1)" font-size="10.5" text-anchor="end" fill="#000" stroke="#000" stroke-width="0.18">80</text>
<text transform="translate(32.40 236.63) scale(0.93 1)" font-size="10.5" text-anchor="end" fill="#000" stroke="#000" stroke-width="0.18">90</text>
<text transform="translate(32.40 218.95) scale(0.93 1)" font-size="10.5" text-anchor="end" fill="#000" stroke="#000" stroke-width="0.18">100</text>
<text transform="translate(32.40 353.90) scale(0.93 1)" font-size="10.5" text-anchor="end" fill="#000" stroke="#000" stroke-width="0.18">0</text>
<text transform="translate(40.40 365.60) scale(0.93 1)" font-size="10" text-anchor="middle" fill="#000" stroke="#000" stroke-width="0.18">0</text>
<text transform="translate(77.43 365.60) scale(0.93 1)" font-size="10" text-anchor="middle" fill="#000" stroke="#000" stroke-width="0.18">5</text>
<text transform="translate(114.47 365.60) scale(0.93 1)" font-size="10" text-anchor="middle" fill="#000" stroke="#000" stroke-width="0.18">10</text>
<text transform="translate(151.50 365.60) scale(0.93 1)" font-size="10" text-anchor="middle" fill="#000" stroke="#000" stroke-width="0.18">15</text>
<text transform="translate(188.53 365.60) scale(0.93 1)" font-size="10" text-anchor="middle" fill="#000" stroke="#000" stroke-width="0.18">20</text>
<text transform="translate(225.57 365.60) scale(0.93 1)" font-size="10" text-anchor="middle" fill="#000" stroke="#000" stroke-width="0.18">25</text>
<text transform="translate(262.60 365.60) scale(0.93 1)" font-size="10" text-anchor="middle" fill="#000" stroke="#000" stroke-width="0.18">30</text>
<text transform="translate(155.50 384.20) scale(1.04 1)" font-size="11.7" text-anchor="middle" fill="#000" stroke="#000" stroke-width="0.18">Time (min)</text>
<text transform="translate(12.20 279.90) rotate(-90) scale(1.04 1)" font-size="11.7" text-anchor="middle" fill="#000" stroke="#000" stroke-width="0.18">Relative activity (%)</text>
<text transform="translate(40.10 205.00) scale(1.1 1)" font-size="16" text-anchor="start" fill="#000" stroke="#000" stroke-width="0.18">(c)</text>
<path d="M46.40 295.30h20.2" stroke="#515151" stroke-width="0.7" opacity="0.75"/>
<rect x="54.75" y="293.55" width="3.50" height="3.50" fill="#515151"/>
<text transform="translate(69.00 298.00) scale(1.14 1)" font-size="7.8" text-anchor="start" fill="#1a1a1a" stroke="#1a1a1a" stroke-width="0.18">WT</text>
<path d="M46.40 306.15h20.2" stroke="#F14040" stroke-width="0.7" opacity="0.75"/>
<circle cx="56.50" cy="306.15" r="2.15" fill="#F14040"/>
<text transform="translate(69.00 308.85) scale(1.14 1)" font-size="7.8" text-anchor="start" fill="#1a1a1a" stroke="#1a1a1a" stroke-width="0.18">G100E</text>
<path d="M46.40 317.00h20.2" stroke="#1A6FDF" stroke-width="0.7" opacity="0.75"/>
<path d="M56.50 314.40L59.25 318.80L53.75 318.80Z" fill="#1A6FDF"/>
<text transform="translate(69.00 319.70) scale(1.14 1)" font-size="7.8" text-anchor="start" fill="#1a1a1a" stroke="#1a1a1a" stroke-width="0.18">G100A</text>
<path d="M46.40 327.85h20.2" stroke="#37AD6B" stroke-width="0.7" opacity="0.75"/>
<path d="M56.50 330.45L59.25 326.05L53.75 326.05Z" fill="#37AD6B"/>
<text transform="translate(69.00 330.55) scale(1.14 1)" font-size="7.8" text-anchor="start" fill="#1a1a1a" stroke="#1a1a1a" stroke-width="0.18">S101G</text>
<path d="M46.40 338.70h20.2" stroke="#B177DE" stroke-width="0.7" opacity="0.75"/>
<path d="M56.50 336.05L59.15 338.70L56.50 341.35L53.85 338.70Z" fill="#B177DE"/>
<text transform="translate(69.00 341.40) scale(1.14 1)" font-size="7.8" text-anchor="start" fill="#1a1a1a" stroke="#1a1a1a" stroke-width="0.18">S101V</text></g>
<g><g clip-path="url(#c3)"><polyline points="313.90,215.70 350.93,234.44 387.97,254.60 425.00,276.70 462.03,291.72 499.07,312.06 536.10,327.97" fill="none" stroke="#515151" stroke-width="0.7" opacity="0.75"/>
<path d="M313.90 214.82V216.58M311.70 214.82h4.4M311.70 216.58h4.4M350.93 230.90V237.98M348.73 230.90h4.4M348.73 237.98h4.4M387.97 252.47V256.72M385.77 252.47h4.4M385.77 256.72h4.4M425.00 274.93V278.46M422.80 274.93h4.4M422.80 278.46h4.4M462.03 288.19V295.26M459.83 288.19h4.4M459.83 295.26h4.4M499.07 309.93V314.18M496.87 309.93h4.4M496.87 314.18h4.4M536.10 325.85V330.09M533.90 325.85h4.4M533.90 330.09h4.4" stroke="#515151" stroke-width="0.6" fill="none" opacity="0.7"/>
<rect x="312.15" y="213.95" width="3.50" height="3.50" fill="#515151"/>
<rect x="349.18" y="232.69" width="3.50" height="3.50" fill="#515151"/>
<rect x="386.22" y="252.85" width="3.50" height="3.50" fill="#515151"/>
<rect x="423.25" y="274.95" width="3.50" height="3.50" fill="#515151"/>
<rect x="460.28" y="289.97" width="3.50" height="3.50" fill="#515151"/>
<rect x="497.32" y="310.31" width="3.50" height="3.50" fill="#515151"/>
<rect x="534.35" y="326.22" width="3.50" height="3.50" fill="#515151"/>
<polyline points="313.90,215.70 350.93,234.62 387.97,250.18 425.00,258.13 462.03,267.86 499.07,276.87 536.10,284.30" fill="none" stroke="#F14040" stroke-width="0.7" opacity="0.75"/>
<path d="M313.90 214.82V216.58M311.70 214.82h4.4M311.70 216.58h4.4M350.93 231.08V238.15M348.73 231.08h4.4M348.73 238.15h4.4M387.97 246.64V253.71M385.77 246.64h4.4M385.77 253.71h4.4M425.00 255.48V260.78M422.80 255.48h4.4M422.80 260.78h4.4M462.03 264.32V271.39M459.83 264.32h4.4M459.83 271.39h4.4M499.07 275.10V278.64M496.87 275.10h4.4M496.87 278.64h4.4M536.10 282.53V286.07M533.90 282.53h4.4M533.90 286.07h4.4" stroke="#F14040" stroke-width="0.6" fill="none" opacity="0.7"/>
<circle cx="313.90" cy="215.70" r="2.15" fill="#F14040"/>
<circle cx="350.93" cy="234.62" r="2.15" fill="#F14040"/>
<circle cx="387.97" cy="250.18" r="2.15" fill="#F14040"/>
<circle cx="425.00" cy="258.13" r="2.15" fill="#F14040"/>
<circle cx="462.03" cy="267.86" r="2.15" fill="#F14040"/>
<circle cx="499.07" cy="276.87" r="2.15" fill="#F14040"/>
<circle cx="536.10" cy="284.30" r="2.15" fill="#F14040"/>
<polyline points="313.90,215.70 350.93,220.12 387.97,224.01 425.00,233.56 462.03,243.63 499.07,257.42 536.10,271.04" fill="none" stroke="#1A6FDF" stroke-width="0.7" opacity="0.75"/>
<path d="M313.90 214.82V216.58M311.70 214.82h4.4M311.70 216.58h4.4M350.93 218.00V222.24M348.73 218.00h4.4M348.73 222.24h4.4M387.97 221.89V226.13M385.77 221.89h4.4M385.77 226.13h4.4M425.00 229.67V237.45M422.80 229.67h4.4M422.80 237.45h4.4M462.03 240.10V247.17M459.83 240.10h4.4M459.83 247.17h4.4M499.07 250.71V264.14M496.87 250.71h4.4M496.87 264.14h4.4M536.10 269.27V272.81M533.90 269.27h4.4M533.90 272.81h4.4" stroke="#1A6FDF" stroke-width="0.6" fill="none" opacity="0.7"/>
<path d="M313.90 213.10L316.65 217.50L311.15 217.50Z" fill="#1A6FDF"/>
<path d="M350.93 217.52L353.68 221.92L348.18 221.92Z" fill="#1A6FDF"/>
<path d="M387.97 221.41L390.72 225.81L385.22 225.81Z" fill="#1A6FDF"/>
<path d="M425.00 230.96L427.75 235.36L422.25 235.36Z" fill="#1A6FDF"/>
<path d="M462.03 241.03L464.78 245.43L459.28 245.43Z" fill="#1A6FDF"/>
<path d="M499.07 254.82L501.82 259.22L496.32 259.22Z" fill="#1A6FDF"/>
<path d="M536.10 268.44L538.85 272.84L533.35 272.84Z" fill="#1A6FDF"/>
<polyline points="313.90,215.70 350.93,221.89 387.97,230.73 425.00,236.56 462.03,242.40 499.07,249.82 536.10,258.66" fill="none" stroke="#37AD6B" stroke-width="0.7" opacity="0.75"/>
<path d="M313.90 214.82V216.58M311.70 214.82h4.4M311.70 216.58h4.4M350.93 220.12V223.66M348.73 220.12h4.4M348.73 223.66h4.4M387.97 228.96V232.50M385.77 228.96h4.4M385.77 232.50h4.4M425.00 235.15V237.98M422.80 235.15h4.4M422.80 237.98h4.4M462.03 239.74V245.05M459.83 239.74h4.4M459.83 245.05h4.4M499.07 248.94V250.71M496.87 248.94h4.4M496.87 250.71h4.4M536.10 257.78V259.55M533.90 257.78h4.4M533.90 259.55h4.4" stroke="#37AD6B" stroke-width="0.6" fill="none" opacity="0.7"/>
<path d="M313.90 218.30L316.65 213.90L311.15 213.90Z" fill="#37AD6B"/>
<path d="M350.93 224.49L353.68 220.09L348.18 220.09Z" fill="#37AD6B"/>
<path d="M387.97 233.33L390.72 228.93L385.22 228.93Z" fill="#37AD6B"/>
<path d="M425.00 239.16L427.75 234.76L422.25 234.76Z" fill="#37AD6B"/>
<path d="M462.03 245.00L464.78 240.60L459.28 240.60Z" fill="#37AD6B"/>
<path d="M499.07 252.42L501.82 248.02L496.32 248.02Z" fill="#37AD6B"/>
<path d="M536.10 261.26L538.85 256.86L533.35 256.86Z" fill="#37AD6B"/>
<polyline points="313.90,215.70 350.93,226.48 387.97,236.39 425.00,248.58 462.03,261.14 499.07,274.04 536.10,284.30" fill="none" stroke="#B177DE" stroke-width="0.7" opacity="0.75"/>
<path d="M313.90 214.82V216.58M311.70 214.82h4.4M311.70 216.58h4.4M350.93 223.30V229.67M348.73 223.30h4.4M348.73 229.67h4.4M387.97 234.97V237.80M385.77 234.97h4.4M385.77 237.80h4.4M425.00 247.17V250.00M422.80 247.17h4.4M422.80 250.00h4.4M462.03 259.72V262.55M459.83 259.72h4.4M459.83 262.55h4.4M499.07 272.28V275.81M496.87 272.28h4.4M496.87 275.81h4.4M536.10 282.53V286.07M533.90 282.53h4.4M533.90 286.07h4.4" stroke="#B177DE" stroke-width="0.6" fill="none" opacity="0.7"/>
<path d="M313.90 213.05L316.55 215.70L313.90 218.35L311.25 215.70Z" fill="#B177DE"/>
<path d="M350.93 223.83L353.58 226.48L350.93 229.13L348.28 226.48Z" fill="#B177DE"/>
<path d="M387.97 233.74L390.62 236.39L387.97 239.04L385.32 236.39Z" fill="#B177DE"/>
<path d="M425.00 245.93L427.65 248.58L425.00 251.23L422.35 248.58Z" fill="#B177DE"/>
<path d="M462.03 258.49L464.68 261.14L462.03 263.79L459.38 261.14Z" fill="#B177DE"/>
<path d="M499.07 271.39L501.72 274.04L499.07 276.69L496.42 274.04Z" fill="#B177DE"/>
<path d="M536.10 281.65L538.75 284.30L536.10 286.95L533.45 284.30Z" fill="#B177DE"/></g>
<path d="M313.90 351.00V210.30H543.20V351.00H313.90Z" fill="none" stroke="#000" stroke-width="1.1"/>
<path d="M313.90 321.78h-4.5M313.90 304.10h-4.5M313.90 286.42h-4.5M313.90 268.74h-4.5M313.90 251.06h-4.5M313.90 233.38h-4.5M313.90 215.70h-4.5M313.90 312.94h-2.4M313.90 295.26h-2.4M313.90 277.58h-2.4M313.90 259.90h-2.4M313.90 242.22h-2.4M313.90 224.54h-2.4M313.90 351.00h-4.5M313.90 342.20h-2.4M313.90 351.00v4.3M350.93 351.00v4.3M387.97 351.00v4.3M425.00 351.00v4.3M462.03 351.00v4.3M499.07 351.00v4.3M536.10 351.00v4.3M332.42 351.00v2.4M369.45 351.00v2.4M406.48 351.00v2.4M443.52 351.00v2.4M480.55 351.00v2.4M517.58 351.00v2.4" stroke="#000" stroke-width="1" fill="none"/>
<path d="M309.40 331.90l9 -2.6v2.6l-9 2.6z" fill="#fff"/>
<path d="M309.40 331.90l9 -2.6M309.40 334.50l9 -2.6" stroke="#000" stroke-width="0.9" fill="none"/>
<path d="M538.70 331.90l9 -2.6v2.6l-9 2.6z" fill="#fff"/>
<path d="M538.70 331.90l9 -2.6M538.70 334.50l9 -2.6" stroke="#000" stroke-width="0.9" fill="none"/>
<text transform="translate(305.90 325.03) scale(0.93 1)" font-size="10.5" text-anchor="end" fill="#000" stroke="#000" stroke-width="0.18">40</text>
<text transform="translate(305.90 307.35) scale(0.93 1)" font-size="10.5" text-anchor="end" fill="#000" stroke="#000" stroke-width="0.18">50</text>
<text transform="translate(305.90 289.67) scale(0.93 1)" font-size="10.5" text-anchor="end" fill="#000" stroke="#000" stroke-width="0.18">60</text>
<text transform="translate(305.90 271.99) scale(0.93 1)" font-size="10.5" text-anchor="end" fill="#000" stroke="#000" stroke-width="0.18">70</text>
<text transform="translate(305.90 254.31) scale(0.93 1)" font-size="10.5" text-anchor="end" fill="#000" stroke="#000" stroke-width="0.18">80</text>
<text transform="translate(305.90 236.63) scale(0.93 1)" font-size="10.5" text-anchor="end" fill="#000" stroke="#000" stroke-width="0.18">90</text>
<text transform="translate(305.90 218.95) scale(0.93 1)" font-size="10.5" text-anchor="end" fill="#000" stroke="#000" stroke-width="0.18">100</text>
<text transform="translate(305.90 353.90) scale(0.93 1)" font-size="10.5" text-anchor="end" fill="#000" stroke="#000" stroke-width="0.18">0</text>
<text transform="translate(313.90 365.60) scale(0.93 1)" font-size="10" text-anchor="middle" fill="#000" stroke="#000" stroke-width="0.18">0</text>
<text transform="translate(350.93 365.60) scale(0.93 1)" font-size="10" text-anchor="middle" fill="#000" stroke="#000" stroke-width="0.18">5</text>
<text transform="translate(387.97 365.60) scale(0.93 1)" font-size="10" text-anchor="middle" fill="#000" stroke="#000" stroke-width="0.18">10</text>
<text transform="translate(425.00 365.60) scale(0.93 1)" font-size="10" text-anchor="middle" fill="#000" stroke="#000" stroke-width="0.18">15</text>
<text transform="translate(462.03 365.60) scale(0.93 1)" font-size="10" text-anchor="middle" fill="#000" stroke="#000" stroke-width="0.18">20</text>
<text transform="translate(499.07 365.60) scale(0.93 1)" font-size="10" text-anchor="middle" fill="#000" stroke="#000" stroke-width="0.18">25</text>
<text transform="translate(536.10 365.60) scale(0.93 1)" font-size="10" text-anchor="middle" fill="#000" stroke="#000" stroke-width="0.18">30</text>
<text transform="translate(429.00 384.20) scale(1.04 1)" font-size="11.7" text-anchor="middle" fill="#000" stroke="#000" stroke-width="0.18">Time (min)</text>
<text transform="translate(285.70 279.90) rotate(-90) scale(1.04 1)" font-size="11.7" text-anchor="middle" fill="#000" stroke="#000" stroke-width="0.18">Relative activity (%)</text>
<text transform="translate(313.60 205.00) scale(1.1 1)" font-size="16" text-anchor="start" fill="#000" stroke="#000" stroke-width="0.18">(d)</text>
<path d="M318.85 295.55h20.2" stroke="#515151" stroke-width="0.7" opacity="0.75"/>
<rect x="327.20" y="293.80" width="3.50" height="3.50" fill="#515151"/>
<text transform="translate(341.45 298.25) scale(1.14 1)" font-size="7.8" text-anchor="start" fill="#1a1a1a" stroke="#1a1a1a" stroke-width="0.18">WT</text>
<path d="M318.85 306.40h20.2" stroke="#F14040" stroke-width="0.7" opacity="0.75"/>
<circle cx="328.95" cy="306.40" r="2.15" fill="#F14040"/>
<text transform="translate(341.45 309.10) scale(1.14 1)" font-size="7.8" text-anchor="start" fill="#1a1a1a" stroke="#1a1a1a" stroke-width="0.18">E110L</text>
<path d="M318.85 317.25h20.2" stroke="#1A6FDF" stroke-width="0.7" opacity="0.75"/>
<path d="M328.95 314.65L331.70 319.05L326.20 319.05Z" fill="#1A6FDF"/>
<text transform="translate(341.45 319.95) scale(1.14 1)" font-size="7.8" text-anchor="start" fill="#1a1a1a" stroke="#1a1a1a" stroke-width="0.18">R143V</text>
<path d="M318.85 328.10h20.2" stroke="#37AD6B" stroke-width="0.7" opacity="0.75"/>
<path d="M328.95 330.70L331.70 326.30L326.20 326.30Z" fill="#37AD6B"/>
<text transform="translate(341.45 330.80) scale(1.14 1)" font-size="7.8" text-anchor="start" fill="#1a1a1a" stroke="#1a1a1a" stroke-width="0.18">R143L</text>
<path d="M318.85 338.95h20.2" stroke="#B177DE" stroke-width="0.7" opacity="0.75"/>
<path d="M328.95 336.30L331.60 338.95L328.95 341.60L326.30 338.95Z" fill="#B177DE"/>
<text transform="translate(341.45 341.65) scale(1.14 1)" font-size="7.8" text-anchor="start" fill="#1a1a1a" stroke="#1a1a1a" stroke-width="0.18">R143G</text></g>
</svg>
</body></html>
